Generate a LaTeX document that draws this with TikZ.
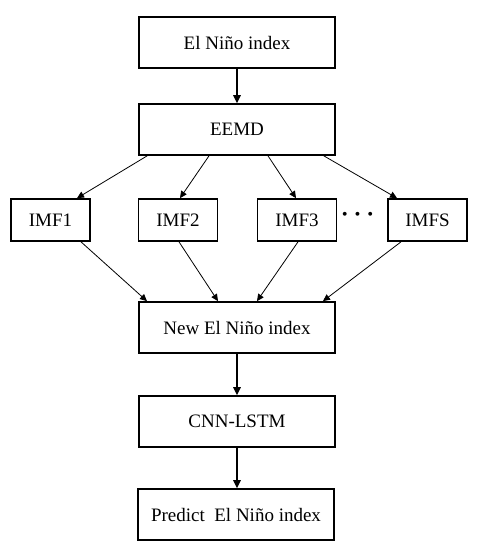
\documentclass[tikz,border=0pt]{standalone}
\usepackage{amsmath}
\usepackage{fontspec}
\setmainfont{Liberation Serif}
\usetikzlibrary{arrows.meta}

\tikzset{
  bigbox/.style={draw, line width=1.7pt, minimum width=196pt, minimum height=51pt,
    inner sep=0pt, font=\fontsize{19}{22}\selectfont},
  imfbox/.style={draw, line width=1.7pt, minimum width=79pt, minimum height=42pt,
    inner sep=0pt, font=\fontsize{19}{22}\selectfont},
  thickarrow/.style={line width=1.3pt, -{Triangle[length=8pt,width=7.5pt]}},
  thinarrow/.style={line width=0.8pt, -{Triangle[length=7pt,width=6.5pt]}}
}

\begin{document}
\begin{tikzpicture}[x=1pt,y=-1pt]

    \useasboundingbox (0,0) rectangle (482,550);

    \node[bigbox] (nino) at (237,42.5) {El Niño index};
    \node[bigbox] (eemd) at (237,129.5) {EEMD};

    \node[imfbox] (imf1) at (50.5,220) {IMF1};
    \node[imfbox] (imf2) at (178,220) {IMF2};
    \node[imfbox] (imf3) at (297,220) {IMF3};
    \node[imfbox] (imfs) at (427.5,220) {IMFS};
    \node[font={\fontsize{24}{24}\selectfont\boldmath}] (dots) at (360,215) {$\cdots$};

    \node[bigbox] (newnino) at (237,327.5) {New El Niño index};
    \node[bigbox] (cnn) at (237,421.5) {CNN-LSTM};
    \node[bigbox] (pred) at (236,514.5) {Predict\ \ El Niño index};

    \draw[thickarrow] (nino.south) -- (eemd.north);

    \draw[thinarrow] ([xshift=9pt]eemd.south west) -- ([xshift=26.5pt]imf1.north);
    \draw[thinarrow] ([xshift=-28pt]eemd.south) -- ([xshift=2pt]imf2.north);
    \draw[thinarrow] ([xshift=31pt]eemd.south) -- ([xshift=-1pt]imf3.north);
    \draw[thinarrow] ([xshift=-12pt]eemd.south east) -- ([xshift=-30.5pt]imfs.north);

    \draw[thinarrow] ([xshift=30.5pt]imf1.south) -- ([xshift=-90pt]newnino.north);
    \draw[thinarrow] ([xshift=1pt]imf2.south) -- ([xshift=-19pt]newnino.north);
    \draw[thinarrow] ([xshift=1pt]imf3.south) -- ([xshift=20pt]newnino.north);
    \draw[thinarrow] ([xshift=-26.5pt]imfs.south) -- ([xshift=86pt]newnino.north);

    \draw[thickarrow] (newnino.south) -- (cnn.north);
    \draw[thickarrow] (cnn.south) -- ([xshift=1pt]pred.north);
  \end{tikzpicture}
\end{document}
